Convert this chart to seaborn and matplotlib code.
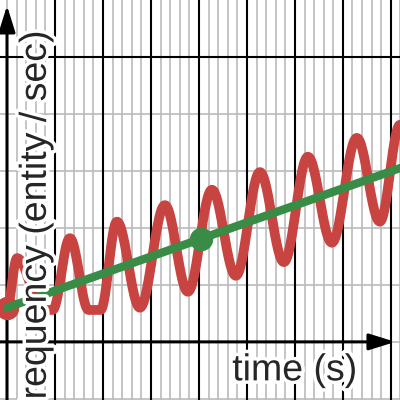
import numpy as np
import matplotlib
matplotlib.use("Agg")
import matplotlib.pyplot as plt
import matplotlib.patheffects as pe
import seaborn as sns

# extrema of the red oscillating curve (time, value)
red_t = [0.0, 0.21, 0.75, 0.95, 1.31, 1.70, 1.95, 2.29, 2.77, 3.29, 3.77, 4.27, 4.77, 5.27, 5.77, 6.27, 6.77, 7.29, 7.77, 8.19]
red_v = [0.60, 1.47, 0.56, 0.56, 1.82, 0.56, 0.56, 2.11, 0.60, 2.40, 0.88, 2.67, 1.16, 2.98, 1.40, 3.25, 1.74, 3.58, 2.11, 3.81]
# green trend line endpoints and midpoint dot
green_t = [0.0, 8.19]
green_v = [0.60, 3.05]
dot_t = [4.04]
dot_v = [1.81]
xlabel = "time (s)"
ylabel = "Frequency (entity / sec)"

sns.set_style("white")
plt.rcParams['font.family'] = ['Liberation Sans', 'DejaVu Sans']
fig = plt.figure(figsize=(4, 4), dpi=100)
ax = fig.add_axes([0, 0, 1, 1])
ax.set_xlim(-0.146, 8.19)
ax.set_ylim(-1.02, 6.0)

# grid
for v in np.arange(-0.2, 8.3, 0.2):
    ax.axvline(v, color="#bbbbbb", lw=1.2, zorder=0)
for v in range(-1, 6):
    ax.axhline(v, color="#bbbbbb", lw=1.2, zorder=0)
for v in range(1, 9):
    ax.axvline(v, color="black", lw=1.5, zorder=1)
ax.axhline(5, color="black", lw=1.5, zorder=1)
ax.annotate("", xy=(8.15, 0), xytext=(-0.2, 0),
            arrowprops=dict(arrowstyle="-|>,head_length=1.6,head_width=0.5", color="black", lw=2.2), zorder=2)
ax.annotate("", xy=(0, 5.95), xytext=(0, -1.1),
            arrowprops=dict(arrowstyle="-|>,head_length=1.6,head_width=0.5", color="black", lw=2.2), zorder=2)

# smooth red curve between listed extrema
tt, vv = [], []
for i in range(len(red_t) - 1):
    s = np.linspace(0, 1, 30)
    w = (1 - np.cos(np.pi * s)) / 2
    tt.extend(red_t[i] + (red_t[i + 1] - red_t[i]) * s)
    vv.extend(red_v[i] + (red_v[i + 1] - red_v[i]) * w)
sns.lineplot(x=tt, y=vv, ax=ax, color="#c74440", lw=7, sort=False, zorder=3,
             solid_capstyle="round", solid_joinstyle="round")
ax.scatter([red_t[0]], [red_v[0]], s=250, color="#c74440", zorder=4)
sns.lineplot(x=green_t, y=green_v, ax=ax, color="#388c46", lw=6, zorder=5)
ax.scatter(dot_t, dot_v, s=250, color="#388c46", zorder=6)

stroke = [pe.withStroke(linewidth=5, foreground="white")]
ax.text(6.0, -0.5, xlabel, fontsize=27, ha="center", va="center",
        path_effects=stroke, zorder=7)
ax.text(0.60, 5.47, ylabel, fontsize=27, rotation=90, ha="center", va="top",
        path_effects=stroke, zorder=7)

ax.set_xticks([]); ax.set_yticks([])
for s in ax.spines.values():
    s.set_visible(False)
fig.savefig("out.png", dpi=100)
